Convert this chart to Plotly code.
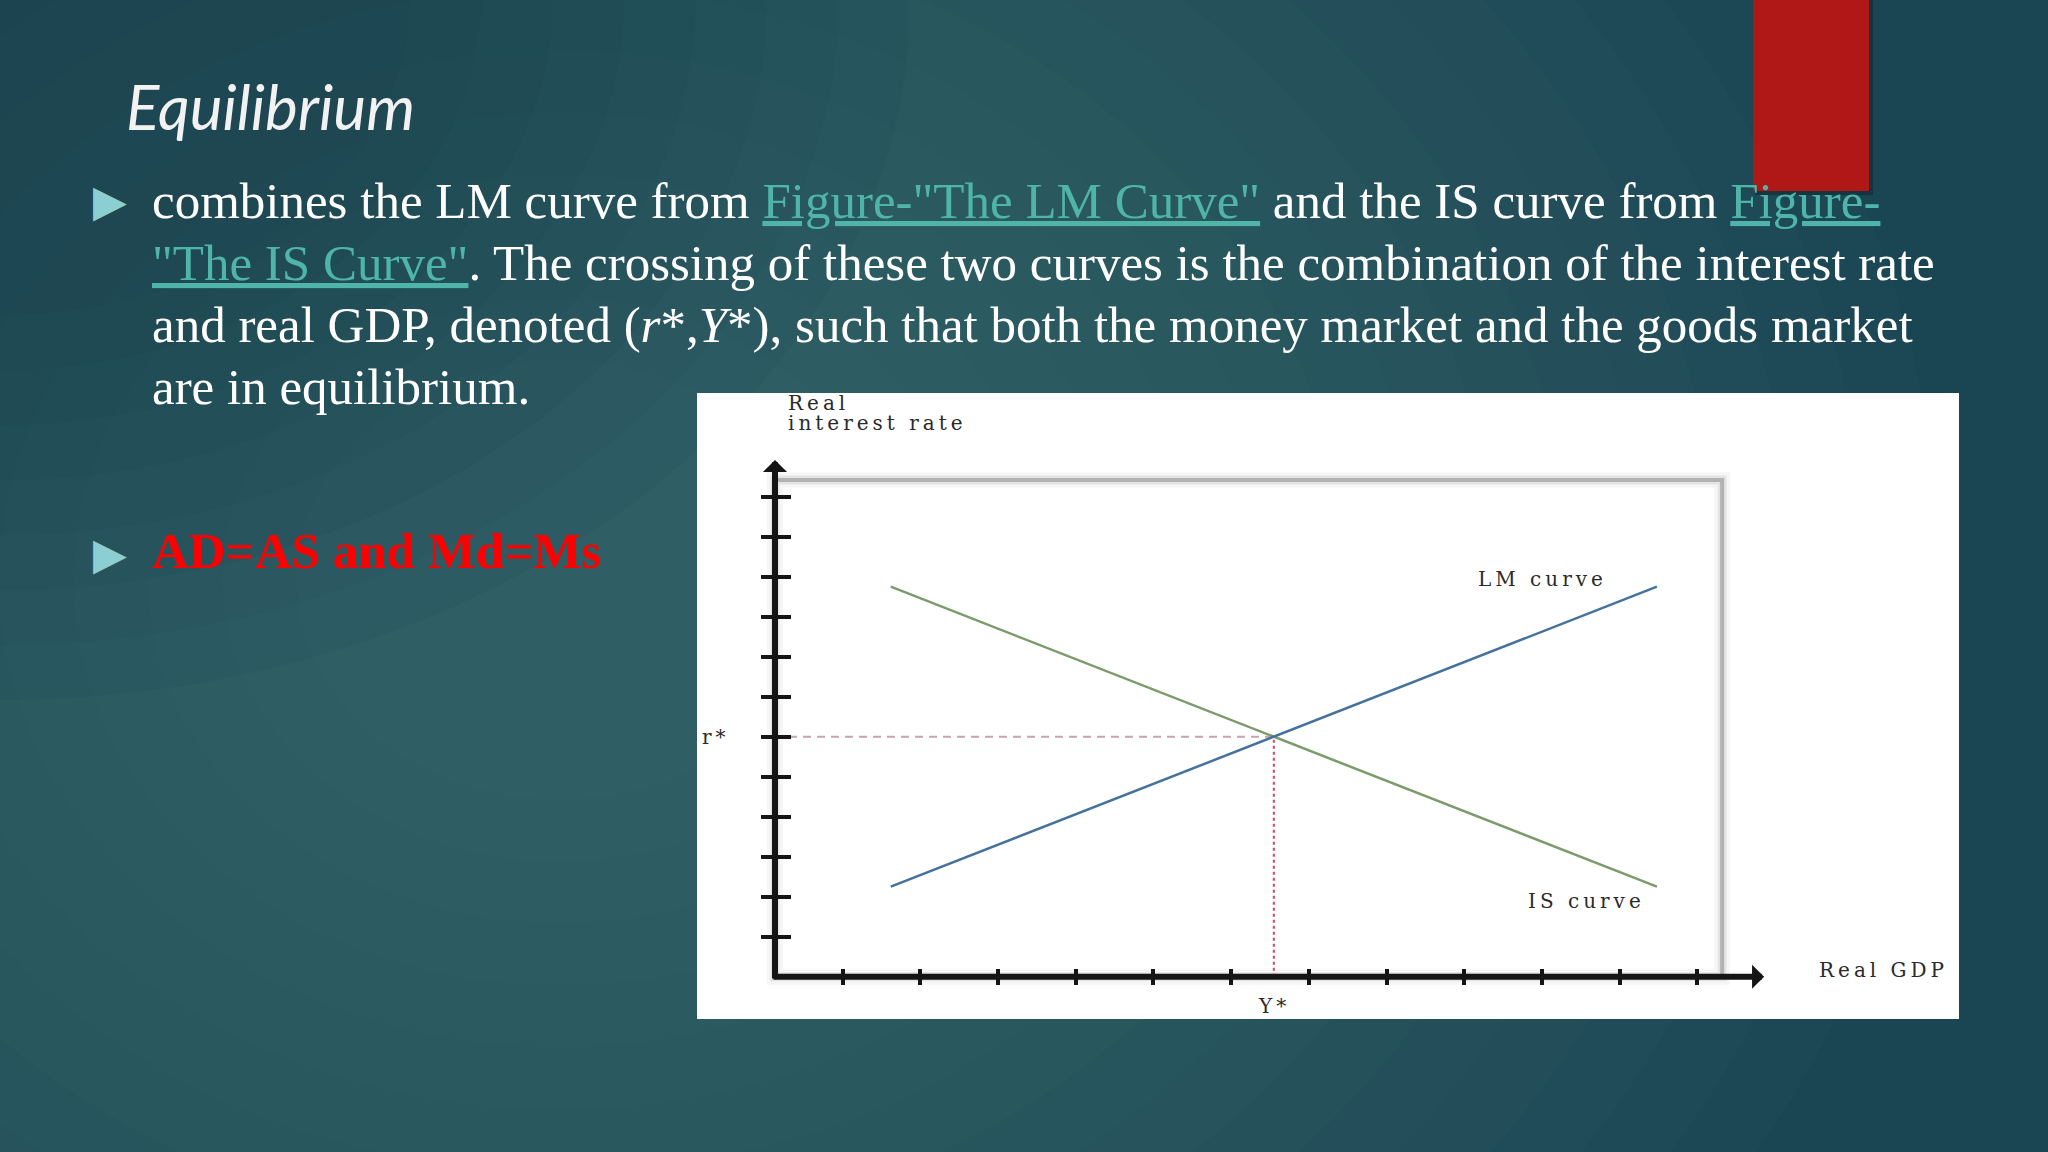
import plotly.graph_objects as go

W, H = 2048, 1152

# chart values (axis units: y tick spacing = 1, x origin at the vertical axis)
x_ticks = [0.87, 1.87, 2.87, 3.87, 4.87, 5.87, 6.87, 7.87, 8.87, 9.87, 10.87, 11.87]
y_ticks = [1, 2, 3, 4, 5, 6, 7, 8, 9, 10, 11, 12]
lm_x = [1.49, 11.35]
lm_y = [2.25, 9.75]
is_x = [1.49, 11.35]
is_y = [9.75, 2.25]
r_star = 6.0
y_star = 6.42
x_arrow_end = 12.73
y_arrow_end = 12.92
frame_x = 12.19
frame_y = 12.42

title = "Equilibrium"
link_color = "#4fb5aa"
body_lines = [
    "combines the LM curve from <span style='color:%s'><u>Figure-\"The LM Curve\"</u></span>"
    " and the IS curve from <span style='color:%s'><u>Figure-</u></span>" % (link_color, link_color),
    "<span style='color:%s'><u>\"The IS Curve\"</u></span>. The crossing of these two curves"
    " is the combination of the interest rate" % link_color,
    "and real GDP, denoted (<i>r</i>*,<i>Y</i>*), such that both the money market and the goods market",
    "are in equilibrium.",
]
red_line = "AD=AS and Md=Ms"


def px(x):
    return x / W


def py(y):
    return 1 - y / H


fig = go.Figure()

fig.add_trace(go.Scatter(x=[0, y_star], y=[r_star, r_star], mode="lines",
                         line=dict(color="#c9a3ab", width=2, dash="8px,6px"),
                         hoverinfo="skip", showlegend=False))
fig.add_trace(go.Scatter(x=[y_star, y_star], y=[0, r_star], mode="lines",
                         line=dict(color="#d8435f", width=2, dash="3px,3px"),
                         hoverinfo="skip", showlegend=False))
fig.add_trace(go.Scatter(x=is_x, y=is_y, mode="lines", name="IS curve",
                         line=dict(color="#7b9b6b", width=2.5),
                         hoverinfo="skip", showlegend=False))
fig.add_trace(go.Scatter(x=lm_x, y=lm_y, mode="lines", name="LM curve",
                         line=dict(color="#44729c", width=2.5),
                         hoverinfo="skip", showlegend=False))

shapes = []
# slide background glow (soft radial light left of centre)
for k in range(16):
    r = 1150 - 62 * k
    shapes.append(dict(type="circle", xref="paper", yref="paper", layer="below",
                       x0=px(560 - r * 1.2), x1=px(560 + r * 1.2),
                       y0=py(580 + r), y1=py(580 - r),
                       fillcolor="rgba(62,122,116,0.06)", line_width=0))
# darker top-left corner
for k in range(8):
    r = 700 - 55 * k
    shapes.append(dict(type="circle", xref="paper", yref="paper", layer="below",
                       x0=px(-r * 1.3), x1=px(r * 1.3), y0=py(r), y1=py(-r),
                       fillcolor="rgba(18,48,64,0.06)", line_width=0))
# white picture box
shapes.append(dict(type="rect", xref="paper", yref="paper", layer="below",
                   x0=px(697), x1=px(1959), y0=py(1019), y1=py(393),
                   fillcolor="white", line_width=0))
# shadowed frame of the diagram
for w, c in [(16, "rgba(0,0,0,0.035)"), (9, "rgba(0,0,0,0.07)"), (4, "rgba(0,0,0,0.22)")]:
    shapes.append(dict(type="rect", xref="x", yref="y", layer="below",
                       x0=0, x1=frame_x, y0=0, y1=frame_y,
                       line=dict(color=c, width=w)))
# red accent bar with a faint shadow
shapes.append(dict(type="rect", xref="paper", yref="paper", layer="above",
                   x0=px(1755), x1=px(1873), y0=py(195), y1=1.0,
                   fillcolor="rgba(0,0,0,0.25)", line_width=0))
shapes.append(dict(type="rect", xref="paper", yref="paper", layer="above",
                   x0=px(1753), x1=px(1869), y0=py(191), y1=1.0,
                   fillcolor="#b01818", line_width=0))

annotations = []
# axis arrows
annotations.append(dict(x=0, y=y_arrow_end, ax=0, ay=-0.08, xref="x", yref="y",
                        axref="x", ayref="y", text="", showarrow=True,
                        arrowhead=1, arrowsize=0.67, arrowwidth=6, arrowcolor="#151515"))
annotations.append(dict(x=x_arrow_end, y=0, ax=-0.04, ay=0, xref="x", yref="y",
                        axref="x", ayref="y", text="", showarrow=True,
                        arrowhead=1, arrowsize=0.67, arrowwidth=6, arrowcolor="#151515"))

lab_font = dict(family="DejaVu Serif", size=20, color="#2a2a2a")


def lab(text, x, y):
    annotations.append(dict(x=px(x), y=py(y), xref="paper", yref="paper",
                            text="<span style='letter-spacing:4px'>%s</span>" % text,
                            showarrow=False, xanchor="left", yanchor="middle", font=lab_font))


lab("Real", 786, 403)
lab("interest rate", 786, 423)
lab("LM curve", 1476, 579)
lab("IS curve", 1526, 901)
lab("Real GDP", 1817, 970)
lab("Y*", 1256, 1006)
lab("r*", 700, 737)

# slide text
annotations.append(dict(x=px(124), y=py(106), xref="paper", yref="paper", text=title,
                        showarrow=False, xanchor="left", yanchor="middle",
                        font=dict(family="Lato", size=62, color="#f2f2f2", style="italic")))
body_font = dict(family="Liberation Serif", size=51, color="#ffffff")
for i, line in enumerate(body_lines):
    annotations.append(dict(x=px(150), y=py(201 + 62 * i), xref="paper", yref="paper",
                            text=line, showarrow=False, xanchor="left", yanchor="middle",
                            font=body_font))
annotations.append(dict(x=px(150), y=py(551), xref="paper", yref="paper",
                        text="<b>%s</b>" % red_line, showarrow=False,
                        xanchor="left", yanchor="middle",
                        font=dict(family="Liberation Serif", size=51, color="#ff0000")))
for yb in [201, 553]:
    annotations.append(dict(x=px(110), y=py(yb), xref="paper", yref="paper", text="▶",
                            showarrow=False, xanchor="center", yanchor="middle",
                            font=dict(family="DejaVu Sans", size=44, color="#8ccfd3")))

fig.update_layout(
    width=W, height=H,
    margin=dict(l=0, r=0, t=0, b=0),
    paper_bgcolor="#1a4553",
    plot_bgcolor="rgba(0,0,0,0)",
    shapes=shapes,
    annotations=annotations,
    xaxis=dict(domain=[px(697), px(1959)], range=[-78 / 77.7, 1184 / 77.7],
               anchor="free", position=py(984.7), showgrid=False, zeroline=False,
               showline=False, tickmode="array", tickvals=x_ticks, showticklabels=False,
               ticks="inside", ticklen=16, tickwidth=4, tickcolor="#151515", fixedrange=True),
    yaxis=dict(domain=[py(1019), py(393)], range=[(976.7 - 1019) / 40, (976.7 - 393) / 40],
               anchor="free", position=px(760), showgrid=False, zeroline=False,
               showline=False, tickmode="array", tickvals=y_ticks, showticklabels=False,
               ticks="inside", ticklen=30, tickwidth=4, tickcolor="#151515", fixedrange=True),
)

fig.write_html("out.html", config={"displayModeBar": False},
               post_script="document.body.style.margin='0';document.body.style.overflow='hidden';")
